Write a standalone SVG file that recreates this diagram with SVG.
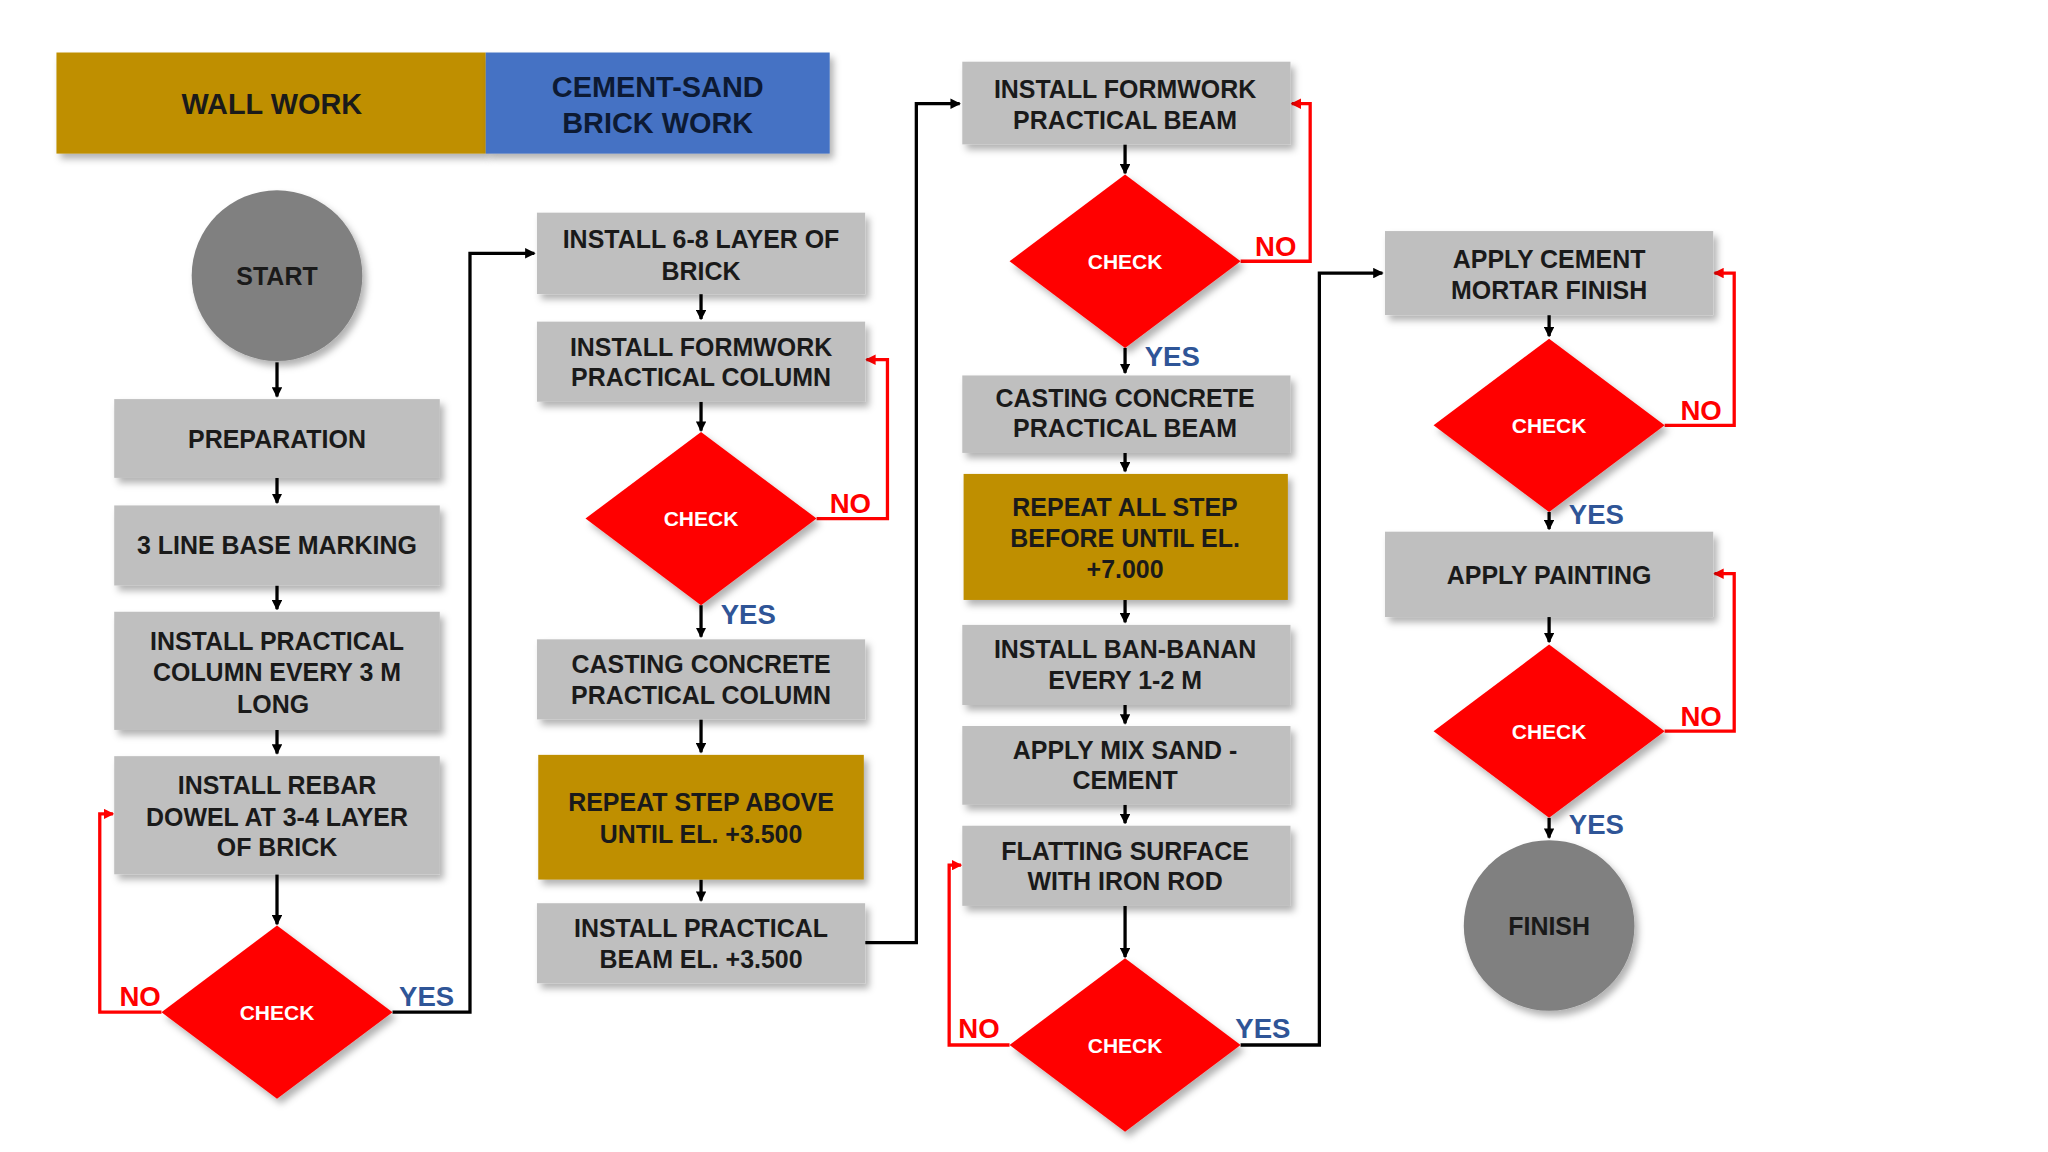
<svg xmlns="http://www.w3.org/2000/svg" width="2048" height="1152" viewBox="0 0 2048 1152">
<style>
.b{fill:#BFBFBF;filter:url(#sh)}
.g{fill:#BF8F00;filter:url(#sh)}
.c{fill:#808080;filter:url(#sh)}
.d{fill:#FF0000;filter:url(#sh)}
text{font-family:"Liberation Sans",Arial,sans-serif;font-weight:bold;text-anchor:middle}
.t{font-size:19px;fill:#1a1a1a}
.ck{font-size:16px;fill:#ffffff}
.no{font-size:21px;fill:#FF0000;text-anchor:start}
.ys{font-size:21px;fill:#2F5597;text-anchor:start}
.k{stroke:#000;stroke-width:2.5;fill:none;marker-end:url(#ak)}
.r{stroke:#FF0000;stroke-width:2.5;fill:none;marker-end:url(#ar)}
</style>
<defs>
<filter id="sh" x="-20%" y="-20%" width="150%" height="150%"><feDropShadow dx="3" dy="4" stdDeviation="3" flood-color="#000" flood-opacity="0.3"/></filter>
<marker id="ak" markerWidth="8" markerHeight="8" refX="7" refY="4" orient="auto" markerUnits="userSpaceOnUse"><path d="M0,0L8,4L0,8z" fill="#000"/></marker>
<marker id="ar" markerWidth="8" markerHeight="8" refX="7" refY="4" orient="auto" markerUnits="userSpaceOnUse"><path d="M0,0L8,4L0,8z" fill="#FF0000"/></marker>
</defs>
<rect width="2048" height="1152" fill="#fff"/>
<g transform="scale(1.3128)">
<g id="connectors">
<path class="k" d="M211,276V302"/>
<path class="k" d="M211,364V383"/>
<path class="k" d="M211,446V464"/>
<path class="k" d="M211,556V574"/>
<path class="k" d="M211,666V704"/>
<path class="r" d="M123,771H76V620H86"/>
<path class="k" d="M299,771H358V193H407"/>
<path class="k" d="M534,224V243"/>
<path class="k" d="M534,306V328"/>
<path class="r" d="M622,395H676V274H660"/>
<path class="k" d="M534,461V485"/>
<path class="k" d="M534,548V573"/>
<path class="k" d="M534,670V686"/>
<path class="k" d="M659,718H698V79H731"/>
<path class="k" d="M857,110V132"/>
<path class="r" d="M945,199H998V79H984"/>
<path class="k" d="M857,265V284"/>
<path class="k" d="M857,345V359"/>
<path class="k" d="M857,457V474"/>
<path class="k" d="M857,537V551"/>
<path class="k" d="M857,613V627"/>
<path class="k" d="M857,690V729"/>
<path class="r" d="M769,796H723V659H732"/>
<path class="k" d="M945,796H1005V208H1053"/>
<path class="k" d="M1180,240V256"/>
<path class="r" d="M1268,324H1321V208H1306"/>
<path class="k" d="M1180,390V403"/>
<path class="k" d="M1180,470V489"/>
<path class="r" d="M1268,557H1321V437H1306"/>
<path class="k" d="M1180,623V638"/>
</g>
<g id="header">
<rect x="43" y="40" width="327" height="77" class="g"/>
<rect x="370" y="40" width="262" height="77" fill="#4472C4" filter="url(#sh)"/>
<text class="t" x="207" y="87" style="font-size:22px">WALL WORK</text>
<text class="t" x="501" y="74" style="font-size:22px;fill:#0d1a33">CEMENT-SAND</text>
<text class="t" x="501" y="101" style="font-size:22px;fill:#0d1a33">BRICK WORK</text>
</g>
<g id="start"><circle cx="211" cy="210" r="65" class="c"/><text class="t" x="211" y="217">START</text></g>
<g id="prep"><rect x="87" y="304" width="248" height="60" class="b"/><text class="t" x="211" y="341">PREPARATION</text></g>
<g id="mark"><rect x="87" y="385" width="248" height="61" class="b"/><text class="t" x="211" y="422">3 LINE BASE MARKING</text></g>
<g id="col"><rect x="87" y="466" width="248" height="90" class="b"/><text class="t" x="211" y="495">INSTALL PRACTICAL</text><text class="t" x="211" y="519">COLUMN EVERY 3 M</text><text class="t" x="208" y="543">LONG</text></g>
<g id="rebar"><rect x="87" y="576" width="248" height="90" class="b"/><text class="t" x="211" y="605">INSTALL REBAR</text><text class="t" x="211" y="629">DOWEL AT 3-4 LAYER</text><text class="t" x="211" y="652">OF BRICK</text></g>
<g id="check1"><path d="M211,705L299,771L211,837L123,771z" class="d"/><text class="ck" x="211" y="777">CHECK</text><text class="no" x="91" y="766">NO</text><text class="ys" x="304" y="766">YES</text></g>
<g id="brick"><rect x="409" y="162" width="250" height="62" class="b"/><text class="t" x="534" y="189">INSTALL 6-8 LAYER OF</text><text class="t" x="534" y="213">BRICK</text></g>
<g id="fwcol"><rect x="409" y="245" width="250" height="61" class="b"/><text class="t" x="534" y="271">INSTALL FORMWORK</text><text class="t" x="534" y="294">PRACTICAL COLUMN</text></g>
<g id="check2"><path d="M534,329L622,395L534,461L446,395z" class="d"/><text class="ck" x="534" y="401">CHECK</text><text class="no" x="632" y="391">NO</text><text class="ys" x="549" y="475">YES</text></g>
<g id="castcol"><rect x="409" y="487" width="250" height="61" class="b"/><text class="t" x="534" y="513">CASTING CONCRETE</text><text class="t" x="534" y="536">PRACTICAL COLUMN</text></g>
<g id="rep1"><rect x="410" y="575" width="248" height="95" class="g"/><text class="t" x="534" y="618">REPEAT STEP ABOVE</text><text class="t" x="534" y="642">UNTIL EL. +3.500</text></g>
<g id="beam"><rect x="409" y="688" width="250" height="61" class="b"/><text class="t" x="534" y="714">INSTALL PRACTICAL</text><text class="t" x="534" y="737">BEAM EL. +3.500</text></g>
<g id="fwbeam"><rect x="733" y="47" width="250" height="63" class="b"/><text class="t" x="857" y="75">INSTALL FORMWORK</text><text class="t" x="857" y="98">PRACTICAL BEAM</text></g>
<g id="check3"><path d="M857,133L945,199L857,265L769,199z" class="d"/><text class="ck" x="857" y="205">CHECK</text><text class="no" x="956" y="195">NO</text><text class="ys" x="872" y="279">YES</text></g>
<g id="castbeam"><rect x="733" y="286" width="250" height="59" class="b"/><text class="t" x="857" y="310">CASTING CONCRETE</text><text class="t" x="857" y="333">PRACTICAL BEAM</text></g>
<g id="rep2"><rect x="734" y="361" width="247" height="96" class="g"/><text class="t" x="857" y="393">REPEAT ALL STEP</text><text class="t" x="857" y="417">BEFORE UNTIL EL.</text><text class="t" x="857" y="440">+7.000</text></g>
<g id="banan"><rect x="733" y="476" width="250" height="61" class="b"/><text class="t" x="857" y="501">INSTALL BAN-BANAN</text><text class="t" x="857" y="525">EVERY 1-2 M</text></g>
<g id="mix"><rect x="733" y="553" width="250" height="60" class="b"/><text class="t" x="857" y="578">APPLY MIX SAND -</text><text class="t" x="857" y="601">CEMENT</text></g>
<g id="flat"><rect x="733" y="629" width="250" height="61" class="b"/><text class="t" x="857" y="655">FLATTING SURFACE</text><text class="t" x="857" y="678">WITH IRON ROD</text></g>
<g id="check4"><path d="M857,730L945,796L857,862L769,796z" class="d"/><text class="ck" x="857" y="802">CHECK</text><text class="no" x="730" y="791">NO</text><text class="ys" x="941" y="791">YES</text></g>
<g id="mortar"><rect x="1055" y="176" width="250" height="64" class="b"/><text class="t" x="1180" y="204">APPLY CEMENT</text><text class="t" x="1180" y="228">MORTAR FINISH</text></g>
<g id="check5"><path d="M1180,258L1268,324L1180,390L1092,324z" class="d"/><text class="ck" x="1180" y="330">CHECK</text><text class="no" x="1280" y="320">NO</text><text class="ys" x="1195" y="399">YES</text></g>
<g id="paint"><rect x="1055" y="405" width="250" height="65" class="b"/><text class="t" x="1180" y="445">APPLY PAINTING</text></g>
<g id="check6"><path d="M1180,491L1268,557L1180,623L1092,557z" class="d"/><text class="ck" x="1180" y="563">CHECK</text><text class="no" x="1280" y="553">NO</text><text class="ys" x="1195" y="635">YES</text></g>
<g id="finish"><circle cx="1180" cy="705" r="65" class="c"/><text class="t" x="1180" y="712">FINISH</text></g>
</g>
</svg>
